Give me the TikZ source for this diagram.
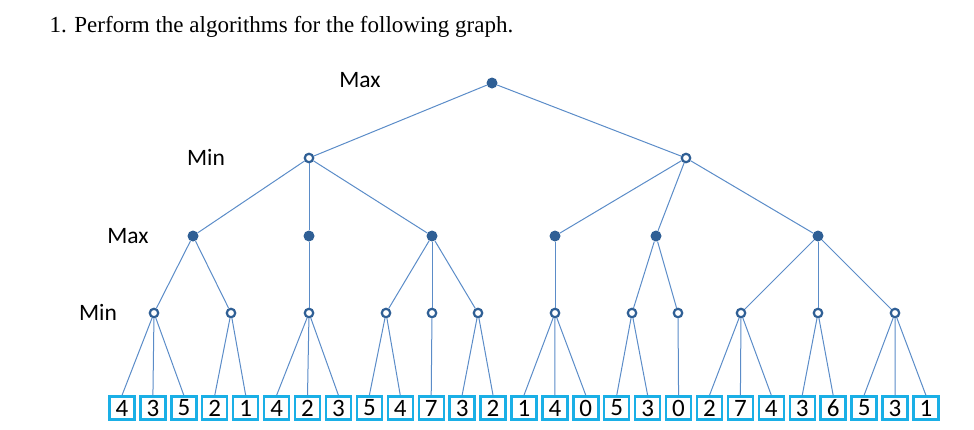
\documentclass[tikz,border=0pt]{standalone}
\usepackage{fontspec}
\setmainfont{Liberation Serif}
\newfontfamily\lab{Carlito}
\definecolor{edge}{HTML}{5B8CC8}
\definecolor{dotc}{HTML}{2F5F95}
\definecolor{boxc}{HTML}{1AAFE6}
\begin{document}
\begin{tikzpicture}[x=1pt,y=-1pt,
  fdot/.style={circle,fill=dotc,inner sep=0,minimum size=11pt},
  odot/.style={circle,draw=dotc,fill=white,line width=2.2pt,inner sep=0,minimum size=8.5pt},
  leaf/.style={draw=boxc,line width=2.4pt,minimum width=25pt,minimum height=23pt,inner sep=0,font=\lab\fontsize{25}{25}\selectfont},
  lvl/.style={font=\lab\fontsize{23.5}{23.5}\selectfont},
  e/.style={draw=edge,line width=1pt}]
\useasboundingbox (0,0) rectangle (974,429);
\node[anchor=west,font=\fontsize{23}{26}\selectfont] (title) at (46,27) {1. Perform the algorithms for the following graph.};
\node[lvl] (l1) at (360,80) {Max};
\node[lvl] (l2) at (206,157) {Min};
\node[lvl] (l3) at (128,236) {Max};
\node[lvl] (l4) at (98,312) {Min};
% leaves
\foreach \v [count=\i] in {4,3,5,2,1,4,2,3,5,4,7,3,2,1,4,0,5,3,0,2,7,4,3,6,5,3,1}
  \node[leaf] (L\i) at ({122+(\i-1)*30.92},408) {\v};
% min nodes
\foreach \x [count=\i] in {154,231,309,386,432,478,555,632,678,741,818,895}
  \node[odot] (m\i) at (\x,313) {};
% max nodes
\foreach \x [count=\i] in {193,309,432,555,656,818}
  \node[fdot] (M\i) at (\x,236) {};
\node[odot] (n1) at (309,158) {};
\node[odot] (n2) at (686,158) {};
\node[fdot] (r) at (492,83) {};
\foreach \a/\b in {r/n1,r/n2,n1/M1,n1/M2,n1/M3,n2/M4,n2/M5,n2/M6,
  M1/m1,M1/m2,M2/m3,M3/m4,M3/m5,M3/m6,M4/m7,M5/m8,M5/m9,M6/m10,M6/m11,M6/m12}
  \draw[e] (\a) -- (\b);
\foreach \a/\b in {m1/L1,m1/L2,m1/L3,m2/L4,m2/L5,m3/L6,m3/L7,m3/L8,m4/L9,m4/L10,m5/L11,m6/L12,m6/L13,
  m7/L14,m7/L15,m7/L16,m8/L17,m8/L18,m9/L19,m10/L20,m10/L21,m10/L22,m11/L23,m11/L24,m12/L25,m12/L26,m12/L27}
  \draw[e] (\a) -- (\b.north);
\end{tikzpicture}
\end{document}
